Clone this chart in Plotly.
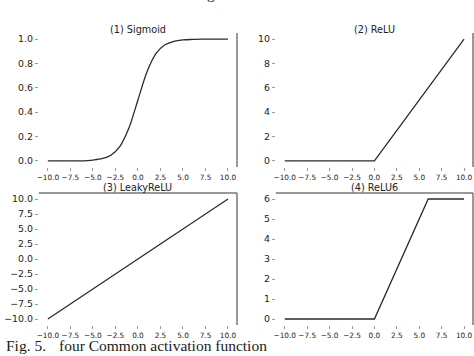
import plotly.graph_objects as go

# ---- data ----
sig_x = [-10, -9, -8, -7, -6, -5, -4, -3, -2, -1, 0, 1, 2, 3, 4, 5, 6, 7, 8, 9, 10]
sig_y = [0.0, 0.0, 0.0, 0.0, 0.0, 0.007, 0.018, 0.047, 0.12, 0.27, 0.5,
         0.73, 0.88, 0.953, 0.982, 0.993, 0.997, 0.999, 1.0, 1.0, 1.0]
relu_x = [-10, 0, 10]
relu_y = [0, 0, 10]
leaky_x = [-10, 0, 10]
leaky_y = [-10, 0, 10]
relu6_x = [-10, 0, 6, 10]
relu6_y = [0, 0, 6, 6]

titles = ["(1) Sigmoid", "(2) ReLU", "(3) LeakyReLU", "(4) ReLU6"]

x_tickvals = [-10, -7.5, -5, -2.5, 0, 2.5, 5, 7.5, 10]
x_ticktext = ["\u221210.0", "\u22127.5", "\u22125.0", "\u22122.5", "0.0", "2.5", "5.0", "7.5", "10.0"]
y1_tickvals = [0, 0.2, 0.4, 0.6, 0.8, 1.0]
y1_ticktext = ["0.0", "0.2", "0.4", "0.6", "0.8", "1.0"]
y2_tickvals = [0, 2, 4, 6, 8, 10]
y2_ticktext = ["0", "2", "4", "6", "8", "10"]
y3_tickvals = [-10, -7.5, -5, -2.5, 0, 2.5, 5, 7.5, 10]
y3_ticktext = ["\u221210.0", "\u22127.5", "\u22125.0", "\u22122.5", "0.0", "2.5", "5.0", "7.5", "10.0"]
y4_tickvals = [0, 1, 2, 3, 4, 5, 6]
y4_ticktext = ["0", "1", "2", "3", "4", "5", "6"]

caption_left = "Fig. 5."
caption_right = "four Common activation function"

# ---- layout geometry (pixels) ----
W, H = 474, 356
def px_x(p):
    return p / W
def px_y(p):
    return 1 - p / H

dom_x_left = [px_x(37), px_x(236)]
dom_x_right = [px_x(275), px_x(473)]
dom_y_top = [px_y(167), px_y(33)]
dom_y_bot = [px_y(325), px_y(193)]

line_color = "#2b2b2b"
tick_font = dict(family="DejaVu Sans", size=7.3, color="#222")
ytick_font = dict(family="DejaVu Sans", size=9.4, color="#222")

fig = go.Figure()
series = [(sig_x, sig_y, "x", "y", "spline"),
          (relu_x, relu_y, "x2", "y2", "linear"),
          (leaky_x, leaky_y, "x3", "y3", "linear"),
          (relu6_x, relu6_y, "x4", "y4", "linear")]
for xs, ys, xa, ya, shape in series:
    fig.add_trace(go.Scatter(x=xs, y=ys, xaxis=xa, yaxis=ya, mode="lines",
                             line=dict(color=line_color, width=1.3, shape=shape, smoothing=0.8),
                             showlegend=False, hoverinfo="skip"))

def xaxis(domain, anchor):
    return dict(domain=domain, anchor=anchor, range=[-11, 11], tickvals=x_tickvals,
                ticktext=x_ticktext, showgrid=False, zeroline=False, showline=False,
                ticks="outside", ticklen=3, tickwidth=1, tickcolor="#999",
                tickfont=tick_font)

def yaxis(domain, anchor, rng, tv, tt):
    return dict(domain=domain, anchor=anchor, range=rng, tickvals=tv, ticktext=tt,
                showgrid=False, zeroline=False, showline=False,
                ticks="outside", ticklen=3, tickwidth=1, tickcolor="#999",
                tickfont=ytick_font)

fig.update_layout(
    width=W, height=H, margin=dict(l=0, r=0, t=0, b=0),
    paper_bgcolor="white", plot_bgcolor="white",
    xaxis=xaxis(dom_x_left, "y"),
    yaxis=yaxis(dom_y_top, "x", [-0.05, 1.05], y1_tickvals, y1_ticktext),
    xaxis2=xaxis(dom_x_right, "y2"),
    yaxis2=yaxis(dom_y_top, "x2", [-0.5, 10.5], y2_tickvals, y2_ticktext),
    xaxis3=xaxis(dom_x_left, "y3"),
    yaxis3=yaxis(dom_y_bot, "x3", [-11, 11], y3_tickvals, y3_ticktext),
    xaxis4=xaxis(dom_x_right, "y4"),
    yaxis4=yaxis(dom_y_bot, "x4", [-0.3, 6.3], y4_tickvals, y4_ticktext),
)

# spines: top panels only right spine; bottom panels top + right spines
shapes = []
spine = dict(color="#777", width=1.5)
for i, (xr, yr) in enumerate([("x", "y"), ("x2", "y2"), ("x3", "y3"), ("x4", "y4")]):
    shapes.append(dict(type="line", xref=xr + " domain", yref=yr + " domain",
                       x0=1, x1=1, y0=0, y1=1, line=spine))
    if i >= 2:
        shapes.append(dict(type="line", xref=xr + " domain", yref=yr + " domain",
                           x0=0, x1=1, y0=1, y1=1, line=spine))
fig.update_layout(shapes=shapes)

annotations = []
title_pos = [(sum(dom_x_left) / 2, px_y(29)), (sum(dom_x_right) / 2, px_y(29)),
             (sum(dom_x_left) / 2, px_y(187)), (sum(dom_x_right) / 2, px_y(187))]
for t, (ax, ay) in zip(titles, title_pos):
    annotations.append(dict(text=t, x=ax, y=ay, xref="paper", yref="paper",
                            xanchor="center", yanchor="middle", showarrow=False,
                            font=dict(family="DejaVu Sans", size=9.7, color="#222")))
annotations.append(dict(text=caption_left, x=px_x(2), y=px_y(345.5), xref="paper", yref="paper",
                        xanchor="left", yanchor="middle", showarrow=False,
                        font=dict(family="Liberation Serif", size=15.5, color="#1a1a1a")))
annotations.append(dict(text=caption_right, x=px_x(55), y=px_y(345.5), xref="paper", yref="paper",
                        xanchor="left", yanchor="middle", showarrow=False,
                        font=dict(family="Liberation Serif", size=15.5, color="#1a1a1a")))
annotations.append(dict(text="g", x=px_x(210), y=px_y(-7), xref="paper", yref="paper",
                        xanchor="center", yanchor="middle", showarrow=False,
                        font=dict(family="Liberation Serif", size=15.5, color="#1a1a1a")))
fig.update_layout(annotations=annotations)

fig.write_html("out.html", config={"displayModeBar": False},
               post_script="document.body.style.margin='0';document.body.style.overflow='hidden';")
